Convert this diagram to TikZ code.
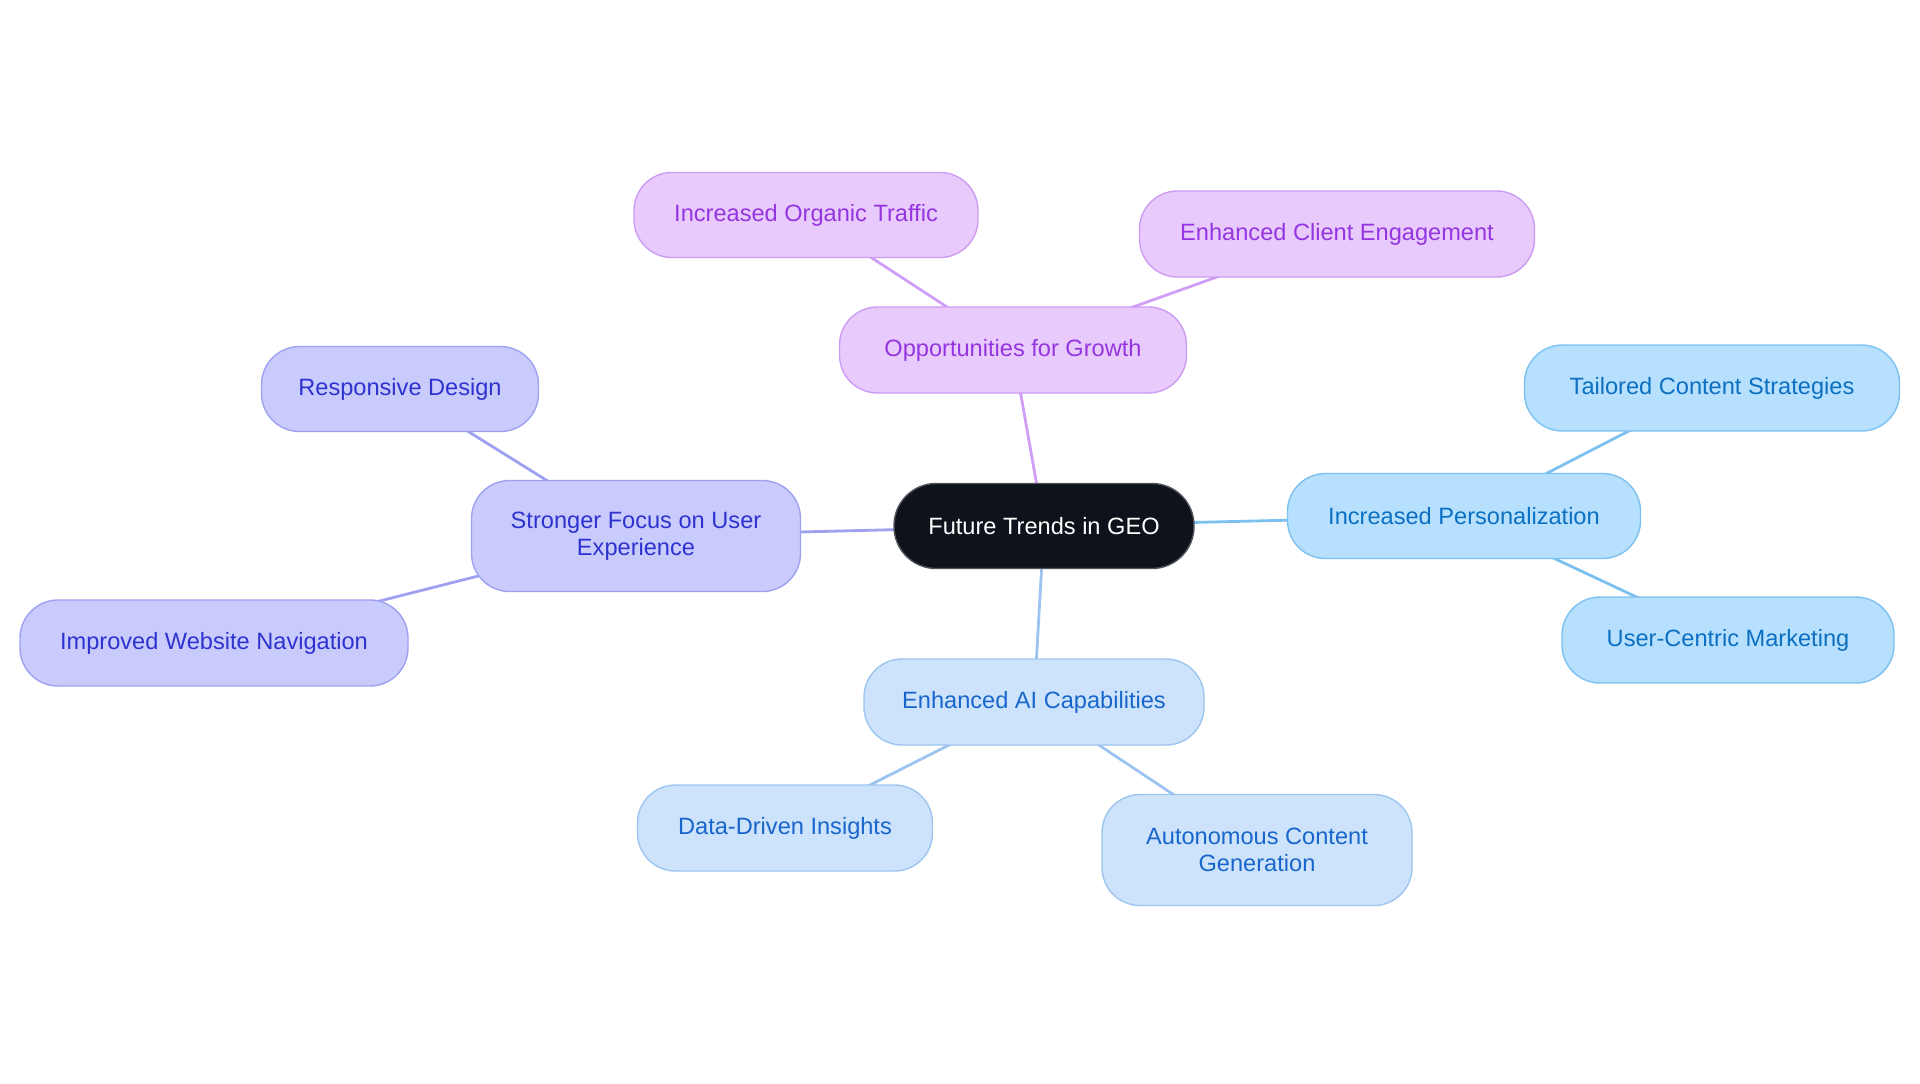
\documentclass[tikz,border=0pt]{standalone}
\usepackage{fontspec}
\setmainfont{Liberation Sans}
\usetikzlibrary{backgrounds}
\definecolor{cfill}{HTML}{0D121B}
\definecolor{cdraw}{HTML}{50545A}
\definecolor{pfill}{HTML}{E8CAFD}
\definecolor{pdraw}{HTML}{CC9CF2}
\definecolor{ptext}{HTML}{9535DF}
\definecolor{pedge}{HTML}{CF9EF6}
\definecolor{ifill}{HTML}{C9CBFC}
\definecolor{idraw}{HTML}{9EA2F1}
\definecolor{itext}{HTML}{2E33D0}
\definecolor{iedge}{HTML}{9EA1F0}
\definecolor{lfill}{HTML}{CDE3FB}
\definecolor{ldraw}{HTML}{9DC5F0}
\definecolor{ltext}{HTML}{1866CC}
\definecolor{ledge}{HTML}{9DC4F0}
\definecolor{sfill}{HTML}{B6E0FD}
\definecolor{sdraw}{HTML}{7DC1F0}
\definecolor{stext}{HTML}{0B6FC2}
\definecolor{sedge}{HTML}{7CC0F0}
\begin{document}
\begin{tikzpicture}[x=0.5pt,y=-0.5pt,
  base/.style={rounded corners=19pt, line width=0.7pt, align=center,
    font=\fontsize{11.8}{13.2}\selectfont, inner sep=0pt},
  central/.style={base, fill=cfill, draw=cdraw, text=white, rounded corners=21pt},
  pur/.style={base, fill=pfill, draw=pdraw, text=ptext},
  ind/.style={base, fill=ifill, draw=idraw, text=itext},
  lbl/.style={base, fill=lfill, draw=ldraw, text=ltext},
  sky/.style={base, fill=sfill, draw=sdraw, text=stext},
  edge/.style={line width=1.4pt}]
\useasboundingbox (0,0) rectangle (1920,1083);
\node[central, minimum width=150pt, minimum height=42.5pt] (c) at (1044,526) {Future Trends in GEO};
\node[pur, minimum width=173.5pt, minimum height=43pt] (opp) at (1013,350) {Opportunities for Growth};
\node[pur, minimum width=172pt, minimum height=42.5pt] (iot) at (806,215) {Increased Organic Traffic};
\node[pur, minimum width=197.5pt, minimum height=43pt] (ece) at (1337,234) {Enhanced Client Engagement};
\node[ind, minimum width=164.5pt, minimum height=55.5pt] (sfu) at (636,536) {Stronger Focus on User\\Experience};
\node[ind, minimum width=138.5pt, minimum height=42.5pt] (rd) at (400,389) {Responsive Design};
\node[ind, minimum width=194pt, minimum height=43pt] (iwn) at (214,643) {Improved Website Navigation};
\node[sky, minimum width=176.5pt, minimum height=42.5pt] (ip) at (1464,516) {Increased Personalization};
\node[sky, minimum width=187.5pt, minimum height=43pt] (tcs) at (1712,388) {Tailored Content Strategies};
\node[sky, minimum width=166pt, minimum height=43pt] (ucm) at (1728,640) {User-Centric Marketing};
\node[lbl, minimum width=170pt, minimum height=43pt] (eai) at (1034,702) {Enhanced AI Capabilities};
\node[lbl, minimum width=147.5pt, minimum height=43pt] (ddi) at (785,828) {Data-Driven Insights};
\node[lbl, minimum width=155pt, minimum height=55.5pt] (acg) at (1257,850) {Autonomous Content\\Generation};
\begin{pgfonlayer}{background}
\draw[edge, pedge] (c.center) -- (opp.center);
\draw[edge, pedge] (opp.center) -- (iot.center);
\draw[edge, pedge] (opp.center) -- (ece.center);
\draw[edge, iedge] (c.center) -- (sfu.center);
\draw[edge, iedge] (sfu.center) -- (rd.center);
\draw[edge, iedge] (sfu.center) -- (iwn.center);
\draw[edge, sedge] (c.center) -- (ip.center);
\draw[edge, sedge] (ip.center) -- (tcs.center);
\draw[edge, sedge] (ip.center) -- (ucm.center);
\draw[edge, ledge] (c.center) -- (eai.center);
\draw[edge, ledge] (eai.center) -- (ddi.center);
\draw[edge, ledge] (eai.center) -- (acg.center);
\end{pgfonlayer}
\end{tikzpicture}
\end{document}
